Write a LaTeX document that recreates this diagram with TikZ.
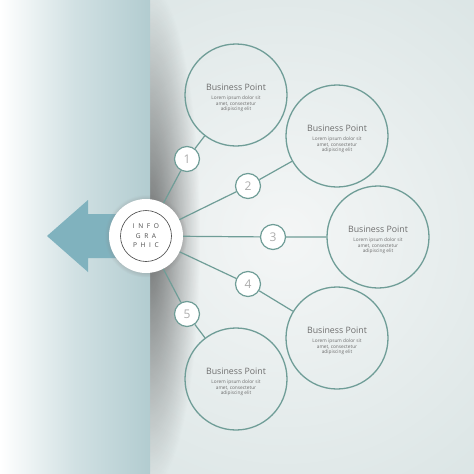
\documentclass[tikz,border=0pt]{standalone}
\usepackage{fontspec}
\setmainfont{Open Sans}
\usetikzlibrary{shadows}
\usetikzlibrary{fadings}

\definecolor{lineteal}{HTML}{6F9D97}
\definecolor{panelteal}{HTML}{B2CCD0}
\definecolor{bgouter}{HTML}{D2DFDF}
\definecolor{bginner}{HTML}{F4F6F6}
\definecolor{arrowteal}{HTML}{80B2BE}
\definecolor{textgrey}{HTML}{6E6E6E}

\tikzfading[name=edgefade, inner color=transparent!20, outer color=transparent!100]

\newcommand\blurbtext{{\fontsize{8.8}{10}\selectfont Business Point}\\[3.6pt]
  Lorem ipsum dolor sit\\amet, consectetur\\adipiscing elit}
\newcommand\gap{\hspace{3.6pt}}

\begin{document}
\begin{tikzpicture}[x=1pt, y=-1pt,
    bigpoint/.style={circle, draw=lineteal, line width=1.3pt, minimum size=102pt, inner sep=0pt},
    blurb/.style={align=center, text=textgrey, inner sep=0pt, font=\fontsize{4.8}{5.3}\selectfont},
    numpoint/.style={circle, draw=lineteal, line width=1.2pt, fill=white, minimum size=25pt,
      inner sep=0pt, text=gray!65, font=\fontsize{12}{12}\selectfont},
    link/.style={draw=lineteal, line width=1.2pt}]
  \useasboundingbox (0,0) rectangle (474,474);

  \fill[bgouter] (0,0) rectangle (474,474);
  \begin{scope}
    \clip (150,0) rectangle (474,474);
    \shade[inner color=bginner, outer color=bgouter] (285,235) circle (420);
    \fill[black, opacity=.65, path fading=edgefade] (100,-13) rectangle (200,487);
  \end{scope}
  \shade[left color=white, right color=panelteal, middle color=panelteal!60] (0,0) rectangle (150,474);

  \fill[arrowteal] (47,236) -- (88,200) -- (88,214) -- (125,214) -- (125,258) -- (88,258) -- (88,272) -- cycle;

  \node[circle, fill=white, minimum size=74pt, inner sep=0pt, align=center, text=gray!60!black,
    font=\fontsize{6.6}{9.6}\selectfont,
    circular drop shadow={shadow xshift=0pt, shadow yshift=0pt, shadow scale=1.12, opacity=.35}]
    (hub) at (146,236) {I\gap N\gap F\gap O\\G\gap R\gap A\\P\gap H\gap I\gap C};
  \draw[gray!55!black, line width=.6pt] (hub.center) circle (25.5);

  \node[numpoint] (n1) at (187,159) {1};
  \node[numpoint] (n2) at (248,186) {2};
  \node[numpoint] (n3) at (273,237) {3};
  \node[numpoint] (n4) at (248,284) {4};
  \node[numpoint] (n5) at (187,314) {5};

  \node[bigpoint] (p1) at (236,95) {};
  \node[bigpoint] (p2) at (337,136) {};
  \node[bigpoint] (p3) at (378,237) {};
  \node[bigpoint] (p4) at (337,338) {};
  \node[bigpoint] (p5) at (236,379) {};

  \node[blurb] (b1) at ([yshift=-3pt]p1.center) {\blurbtext};
  \node[blurb] (b2) at ([yshift=-3pt]p2.center) {\blurbtext};
  \node[blurb] (b3) at ([yshift=-3pt]p3.center) {\blurbtext};
  \node[blurb] (b4) at ([yshift=-3pt]p4.center) {\blurbtext};
  \node[blurb] (b5) at ([yshift=-3pt]p5.center) {\blurbtext};

  \draw[link] (hub) -- (n1) -- (p1);
  \draw[link] (hub) -- (n2) -- (p2);
  \draw[link] (hub) -- (n3) -- (p3);
  \draw[link] (hub) -- (n4) -- (p4);
  \draw[link] (hub) -- (n5) -- (p5);
\end{tikzpicture}
\end{document}
